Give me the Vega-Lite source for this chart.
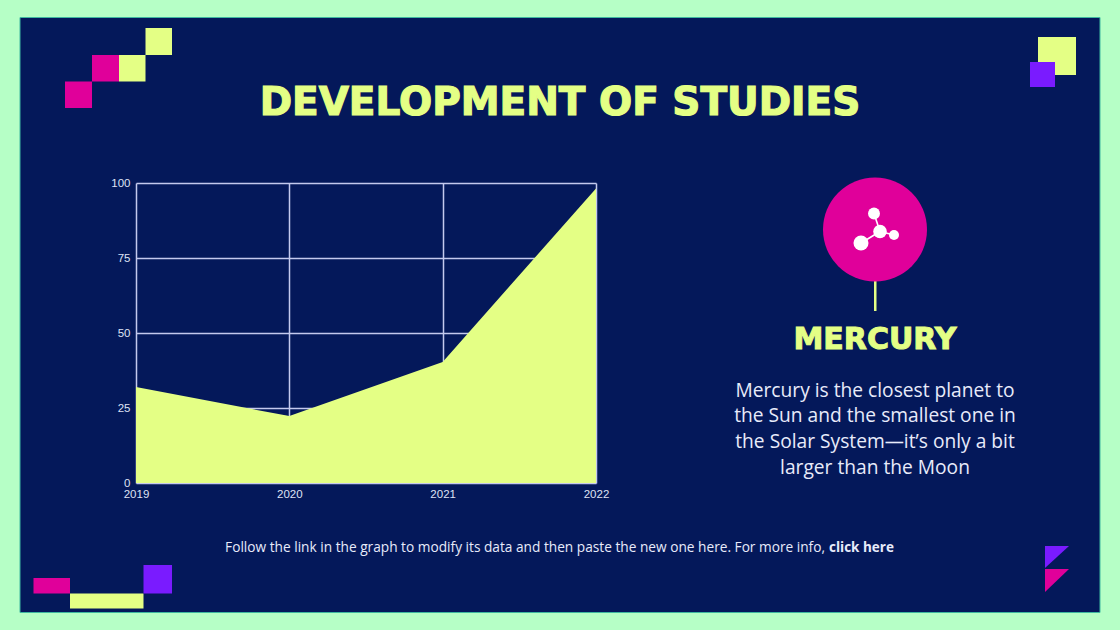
{
  "$schema": "https://vega.github.io/schema/vega-lite/v6.json",
  "width": 460,
  "height": 300,
  "autosize": {"type": "none"},
  "padding": {"left": 136, "top": 183, "right": 524, "bottom": 147},
  "background": "#04185a",
  "config": {"view": {"stroke": null}},
  "datasets": {
    "studies": [
      {"year": 2019, "value": 32},
      {"year": 2020, "value": 22.3},
      {"year": 2021, "value": 40.3},
      {"year": 2022, "value": 98.2}
    ],
    "blocks": [
      {"part": "frame", "x": 0, "x2": 1120, "y": 0, "y2": 17.5},
      {"part": "frame", "x": 0, "x2": 1120, "y": 612.5, "y2": 630},
      {"part": "frame", "x": 0, "x2": 20, "y": 0, "y2": 630},
      {"part": "frame", "x": 1100, "x2": 1120, "y": 0, "y2": 630},
      {"part": "pink", "x": 65, "x2": 92, "y": 81.5, "y2": 108},
      {"part": "pink", "x": 92, "x2": 119, "y": 55, "y2": 81.5},
      {"part": "lime", "x": 119, "x2": 145.5, "y": 55, "y2": 81.5},
      {"part": "lime", "x": 145.5, "x2": 172, "y": 28, "y2": 55},
      {"part": "lime", "x": 1038, "x2": 1076, "y": 37, "y2": 75},
      {"part": "violet", "x": 1030, "x2": 1055, "y": 62, "y2": 87},
      {"part": "pink", "x": 33.5, "x2": 70, "y": 578, "y2": 593.5},
      {"part": "lime", "x": 70, "x2": 143.5, "y": 593.5, "y2": 608.5},
      {"part": "violet", "x": 143.5, "x2": 172, "y": 565, "y2": 593.5},
      {"part": "lime", "x": 874, "x2": 876.5, "y": 281, "y2": 311}
    ],
    "wedges": [
      {"part": "violet", "x": 1045, "y": 546, "y2": 568},
      {"part": "violet", "x": 1069, "y": 546, "y2": 546},
      {"part": "pink", "x": 1045, "y": 569, "y2": 592},
      {"part": "pink", "x": 1069, "y": 569, "y2": 569}
    ],
    "bonds": [
      {"x": 861, "y": 243, "x2": 880, "y2": 231.5},
      {"x": 874, "y": 213.5, "x2": 880, "y2": 231.5},
      {"x": 880, "y": 231.5, "x2": 894, "y2": 235}
    ],
    "nodes": [
      {"node": "large", "x": 861, "y": 243},
      {"node": "hub", "x": 880, "y": 231.5},
      {"node": "upper", "x": 874, "y": 213.5},
      {"node": "small", "x": 894, "y": 235}
    ],
    "body": [
      {"line": "Mercury is the closest planet to", "x": 875, "y": 391},
      {"line": "the Sun and the smallest one in", "x": 875, "y": 416},
      {"line": "the Solar System—it’s only a bit", "x": 875, "y": 442},
      {"line": "larger than the Moon", "x": 875, "y": 468}
    ]
  },
  "resolve": {
    "scale": {"x": "independent", "y": "independent", "color": "independent", "size": "independent"},
    "axis": {"x": "independent", "y": "independent"}
  },
  "layer": [
    {
      "data": {"name": "studies"},
      "mark": {"type": "area", "color": "#e4ff85", "clip": false},
      "encoding": {
        "x": {
          "field": "year",
          "type": "quantitative",
          "scale": {"domain": [2019, 2022], "nice": false, "zero": false},
          "axis": {
            "values": [2019, 2020, 2021, 2022],
            "format": "d",
            "title": null,
            "domain": false,
            "ticks": false,
            "grid": true,
            "gridColor": "#c4c9ee",
            "gridWidth": 1.5,
            "gridOpacity": 1,
            "labelColor": "#dfe2f5",
            "labelFont": "Liberation Sans",
            "labelFontSize": 11.5,
            "labelPadding": 5,
            "labelFlush": false
          }
        },
        "y": {
          "field": "value",
          "type": "quantitative",
          "scale": {"domain": [0, 100], "nice": false},
          "axis": {
            "values": [0, 25, 50, 75, 100],
            "title": null,
            "domain": false,
            "ticks": false,
            "grid": true,
            "gridColor": "#c4c9ee",
            "gridWidth": 1.5,
            "gridOpacity": 1,
            "labelColor": "#dfe2f5",
            "labelFont": "Liberation Sans",
            "labelFontSize": 11.5,
            "labelPadding": 6
          }
        }
      }
    },
    {
      "data": {"name": "blocks"},
      "mark": {"type": "rect"},
      "encoding": {
        "x": {"field": "x", "type": "quantitative", "scale": {"domain": [0, 1120], "range": [-136, 984], "nice": false, "zero": false}, "axis": null},
        "x2": {"field": "x2"},
        "y": {"field": "y", "type": "quantitative", "scale": {"domain": [0, 630], "range": [-183, 447], "nice": false, "zero": false}, "axis": null},
        "y2": {"field": "y2"},
        "color": {"field": "part", "type": "nominal", "legend": null, "scale": {"domain": ["frame", "pink", "lime", "violet"], "range": ["#b6ffc6", "#e0009a", "#e4ff85", "#7a1bff"]}}
      }
    },
    {
      "data": {"values": [{"x": 20, "x2": 1100, "y": 17.5, "y2": 612.5}]},
      "mark": {"type": "rect", "fill": null, "stroke": "#3fb8a0", "strokeWidth": 1},
      "encoding": {
        "x": {"field": "x", "type": "quantitative", "scale": {"domain": [0, 1120], "range": [-136, 984], "nice": false, "zero": false}, "axis": null},
        "x2": {"field": "x2"},
        "y": {"field": "y", "type": "quantitative", "scale": {"domain": [0, 630], "range": [-183, 447], "nice": false, "zero": false}, "axis": null},
        "y2": {"field": "y2"}
      }
    },
    {
      "data": {"name": "wedges"},
      "mark": {"type": "area"},
      "encoding": {
        "x": {"field": "x", "type": "quantitative", "scale": {"domain": [0, 1120], "range": [-136, 984], "nice": false, "zero": false}, "axis": null},
        "y": {"field": "y", "type": "quantitative", "scale": {"domain": [0, 630], "range": [-183, 447], "nice": false, "zero": false}, "axis": null},
        "y2": {"field": "y2"},
        "color": {"field": "part", "type": "nominal", "legend": null, "scale": {"domain": ["pink", "violet"], "range": ["#e0009a", "#7a1bff"]}}
      }
    },
    {
      "data": {"values": [{"x": 875, "y": 229.5}]},
      "mark": {"type": "circle", "size": 10816, "color": "#e0009a", "opacity": 1},
      "encoding": {
        "x": {"field": "x", "type": "quantitative", "scale": {"domain": [0, 1120], "range": [-136, 984], "nice": false, "zero": false}, "axis": null},
        "y": {"field": "y", "type": "quantitative", "scale": {"domain": [0, 630], "range": [-183, 447], "nice": false, "zero": false}, "axis": null}
      }
    },
    {
      "data": {"name": "bonds"},
      "mark": {"type": "rule", "color": "#ffffff", "strokeWidth": 1.6},
      "encoding": {
        "x": {"field": "x", "type": "quantitative", "scale": {"domain": [0, 1120], "range": [-136, 984], "nice": false, "zero": false}, "axis": null},
        "x2": {"field": "x2"},
        "y": {"field": "y", "type": "quantitative", "scale": {"domain": [0, 630], "range": [-183, 447], "nice": false, "zero": false}, "axis": null},
        "y2": {"field": "y2"}
      }
    },
    {
      "data": {"name": "nodes"},
      "mark": {"type": "circle", "color": "#ffffff", "opacity": 1},
      "encoding": {
        "x": {"field": "x", "type": "quantitative", "scale": {"domain": [0, 1120], "range": [-136, 984], "nice": false, "zero": false}, "axis": null},
        "y": {"field": "y", "type": "quantitative", "scale": {"domain": [0, 630], "range": [-183, 447], "nice": false, "zero": false}, "axis": null},
        "size": {"field": "node", "type": "nominal", "legend": null, "scale": {"domain": ["large", "hub", "upper", "small"], "range": [225, 100, 100, 36]}}
      }
    },
    {
      "data": {"values": [{"label": "DEVELOPMENT OF STUDIES", "x": 560, "y": 103}]},
      "mark": {"type": "text", "font": "DejaVu Sans", "fontWeight": "bold", "fontSize": 39, "color": "#e4ff85", "stroke": "#e4ff85", "strokeWidth": 1.2, "align": "center", "baseline": "middle"},
      "encoding": {
        "text": {"field": "label"},
        "x": {"field": "x", "type": "quantitative", "scale": {"domain": [0, 1120], "range": [-136, 984], "nice": false, "zero": false}, "axis": null},
        "y": {"field": "y", "type": "quantitative", "scale": {"domain": [0, 630], "range": [-183, 447], "nice": false, "zero": false}, "axis": null}
      }
    },
    {
      "data": {"values": [{"label": "MERCURY", "x": 875, "y": 340}]},
      "mark": {"type": "text", "font": "DejaVu Sans", "fontWeight": "bold", "fontSize": 30, "color": "#e4ff85", "stroke": "#e4ff85", "strokeWidth": 1, "align": "center", "baseline": "middle"},
      "encoding": {
        "text": {"field": "label"},
        "x": {"field": "x", "type": "quantitative", "scale": {"domain": [0, 1120], "range": [-136, 984], "nice": false, "zero": false}, "axis": null},
        "y": {"field": "y", "type": "quantitative", "scale": {"domain": [0, 630], "range": [-183, 447], "nice": false, "zero": false}, "axis": null}
      }
    },
    {
      "data": {"name": "body"},
      "mark": {"type": "text", "font": "Open Sans", "fontSize": 19.2, "color": "#e8ebfa", "align": "center", "baseline": "middle"},
      "encoding": {
        "text": {"field": "line"},
        "x": {"field": "x", "type": "quantitative", "scale": {"domain": [0, 1120], "range": [-136, 984], "nice": false, "zero": false}, "axis": null},
        "y": {"field": "y", "type": "quantitative", "scale": {"domain": [0, 630], "range": [-183, 447], "nice": false, "zero": false}, "axis": null}
      }
    },
    {
      "data": {"values": [{"label": "Follow the link in the graph to modify its data and then paste the new one here. For more info,", "x": 825, "y": 548}]},
      "mark": {"type": "text", "font": "Open Sans", "fontSize": 13.7, "color": "#e8ebfa", "align": "right", "baseline": "middle"},
      "encoding": {
        "text": {"field": "label"},
        "x": {"field": "x", "type": "quantitative", "scale": {"domain": [0, 1120], "range": [-136, 984], "nice": false, "zero": false}, "axis": null},
        "y": {"field": "y", "type": "quantitative", "scale": {"domain": [0, 630], "range": [-183, 447], "nice": false, "zero": false}, "axis": null}
      }
    },
    {
      "data": {"values": [{"label": "click here", "x": 829, "y": 548}]},
      "mark": {"type": "text", "font": "Open Sans", "fontWeight": "bold", "fontSize": 13.5, "color": "#e8ebfa", "align": "left", "baseline": "middle"},
      "encoding": {
        "text": {"field": "label"},
        "x": {"field": "x", "type": "quantitative", "scale": {"domain": [0, 1120], "range": [-136, 984], "nice": false, "zero": false}, "axis": null},
        "y": {"field": "y", "type": "quantitative", "scale": {"domain": [0, 630], "range": [-183, 447], "nice": false, "zero": false}, "axis": null}
      }
    }
  ]
}
